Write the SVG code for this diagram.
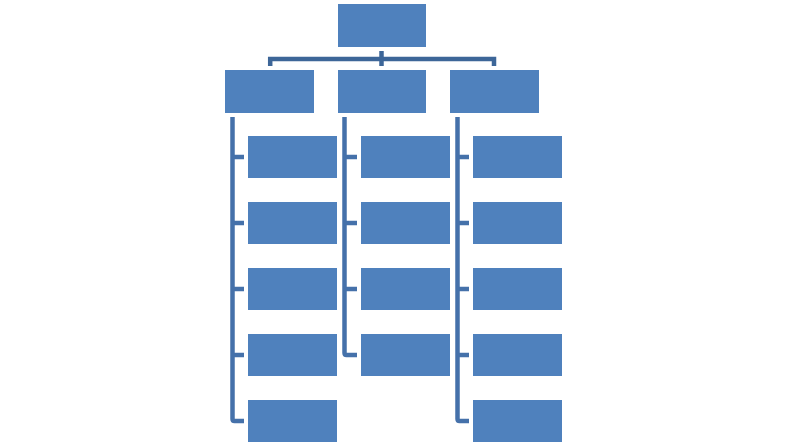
<svg xmlns="http://www.w3.org/2000/svg" width="787" height="446" viewBox="0 0 787 446">
<style>
.box{fill:#4f81bd}
.ln{fill:none;stroke:#4571aa;stroke-width:4.5}
.top{fill:none;stroke:#3d6698;stroke-width:4.5}
</style>
<rect width="787" height="446" fill="#ffffff"/>
<g id="connectors">
<path class="top" d="M270.2 66V59H494V66"/>
<path class="top" d="M381.5 51V66"/>
<path class="ln" d="M232.5 117V419Q232.5 421 234.5 421H244M232.5 157H244M232.5 223H244M232.5 289H244M232.5 355H244"/>
<path class="ln" d="M344.5 117V353Q344.5 355 346.5 355H357M344.5 157H357M344.5 223H357M344.5 289H357"/>
<path class="ln" d="M457.5 117V419Q457.5 421 459.5 421H469M457.5 157H469M457.5 223H469M457.5 289H469M457.5 355H469"/>
</g>
<g id="root"><rect class="box" x="338" y="4" width="88" height="43"/></g>
<g id="l1"><rect class="box" x="225" y="70" width="89" height="43"/></g>
<g id="l2"><rect class="box" x="338" y="70" width="88" height="43"/></g>
<g id="l3"><rect class="box" x="450" y="70" width="89" height="43"/></g>
<g id="a1"><rect class="box" x="248" y="136" width="89" height="42"/></g>
<g id="a2"><rect class="box" x="248" y="202" width="89" height="42"/></g>
<g id="a3"><rect class="box" x="248" y="268" width="89" height="42"/></g>
<g id="a4"><rect class="box" x="248" y="334" width="89" height="42"/></g>
<g id="a5"><rect class="box" x="248" y="400" width="89" height="42"/></g>
<g id="b1"><rect class="box" x="361" y="136" width="89" height="42"/></g>
<g id="b2"><rect class="box" x="361" y="202" width="89" height="42"/></g>
<g id="b3"><rect class="box" x="361" y="268" width="89" height="42"/></g>
<g id="b4"><rect class="box" x="361" y="334" width="89" height="42"/></g>
<g id="c1"><rect class="box" x="473" y="136" width="89" height="42"/></g>
<g id="c2"><rect class="box" x="473" y="202" width="89" height="42"/></g>
<g id="c3"><rect class="box" x="473" y="268" width="89" height="42"/></g>
<g id="c4"><rect class="box" x="473" y="334" width="89" height="42"/></g>
<g id="c5"><rect class="box" x="473" y="400" width="89" height="42"/></g>
</svg>
